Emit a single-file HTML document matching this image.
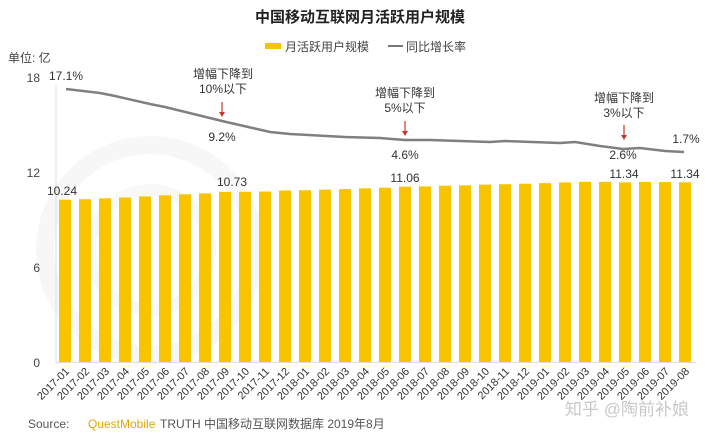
<!DOCTYPE html>
<html><head><meta charset="utf-8"><style>
body{margin:0;background:#fff;}
svg{display:block;font-family:"Liberation Sans","Noto Sans CJK SC",sans-serif;}
</style></head><body>
<svg width="720" height="446" viewBox="0 0 720 446" xmlns="http://www.w3.org/2000/svg">
<rect width="720" height="446" fill="#fff"/>
<circle cx="150" cy="250" r="105" fill="none" stroke="#f7f7f7" stroke-width="18"/>
<circle cx="150" cy="250" r="60" fill="none" stroke="#f8f8f8" stroke-width="12"/>
<text x="360" y="22" text-anchor="middle" font-size="15" font-weight="bold" fill="#222">中国移动互联网月活跃用户规模</text>
<rect x="265" y="43" width="16" height="6" fill="#f8c400"/>
<text x="285" y="51" font-size="12" fill="#444">月活跃用户规模</text>
<line x1="388" y1="46" x2="403" y2="46" stroke="#777" stroke-width="2"/>
<text x="406" y="51" font-size="12" fill="#444">同比增长率</text>
<text x="8" y="62" font-size="12" fill="#444">单位: 亿</text>
<g font-size="12" fill="#444" text-anchor="end">
<text x="40" y="82">18</text><text x="40" y="177">12</text><text x="40" y="272">6</text><text x="40" y="367">0</text>
</g>
<line x1="56" y1="85" x2="56" y2="363" stroke="#ddd"/>
<line x1="56" y1="362.5" x2="696" y2="362.5" stroke="#ddd"/>
<g fill="#f8c400">
<rect x="59" y="199.7" width="12" height="162.3"/>
<rect x="79" y="199.2" width="12" height="162.8"/>
<rect x="99" y="198.3" width="12" height="163.7"/>
<rect x="119" y="197.5" width="12" height="164.5"/>
<rect x="139" y="196.4" width="12" height="165.6"/>
<rect x="159" y="195.3" width="12" height="166.7"/>
<rect x="179" y="194.3" width="12" height="167.7"/>
<rect x="199" y="193.4" width="12" height="168.6"/>
<rect x="219" y="191.9" width="12" height="170.1"/>
<rect x="239" y="191.8" width="12" height="170.2"/>
<rect x="259" y="191.5" width="12" height="170.5"/>
<rect x="279" y="190.5" width="12" height="171.5"/>
<rect x="299" y="190.2" width="12" height="171.8"/>
<rect x="319" y="189.7" width="12" height="172.3"/>
<rect x="339" y="189.1" width="12" height="172.9"/>
<rect x="359" y="188.3" width="12" height="173.7"/>
<rect x="379" y="187.7" width="12" height="174.3"/>
<rect x="399" y="186.7" width="12" height="175.3"/>
<rect x="419" y="186.4" width="12" height="175.6"/>
<rect x="439" y="185.7" width="12" height="176.3"/>
<rect x="459" y="185.3" width="12" height="176.7"/>
<rect x="479" y="184.6" width="12" height="177.4"/>
<rect x="499" y="184.2" width="12" height="177.8"/>
<rect x="519" y="183.7" width="12" height="178.3"/>
<rect x="539" y="183.1" width="12" height="178.9"/>
<rect x="559" y="182.4" width="12" height="179.6"/>
<rect x="579" y="181.8" width="12" height="180.2"/>
<rect x="599" y="181.9" width="12" height="180.1"/>
<rect x="619" y="182.3" width="12" height="179.7"/>
<rect x="639" y="181.9" width="12" height="180.1"/>
<rect x="659" y="182.1" width="12" height="179.9"/>
<rect x="679" y="182.3" width="12" height="179.7"/>
</g>
<polyline fill="none" stroke="#808080" stroke-width="2.5" points="66,89 100,93 115,96 150,104 165,107 222,121 270,132 290,134 345,137 380,138 405,140 430,140 490,142 505,141 560,143 575,142 600,146 623,149 640,148 665,151 684,152"/>
<g font-size="12" fill="#333" text-anchor="middle">
<text x="66" y="80">17.1%</text>
<text x="222" y="141">9.2%</text>
<text x="405" y="159">4.6%</text>
<text x="623" y="159">2.6%</text>
<text x="686" y="143">1.7%</text>
<text x="62" y="195">10.24</text>
<text x="232" y="186">10.73</text>
<text x="405" y="182">11.06</text>
<text x="624" y="178">11.34</text>
<text x="685" y="178">11.34</text>
<text x="223" y="78">增幅下降到</text><text x="223" y="93">10%以下</text>
<text x="405" y="97">增幅下降到</text><text x="405" y="112">5%以下</text>
<text x="624" y="102">增幅下降到</text><text x="624" y="117">3%以下</text>
</g>
<g stroke="#c0392b" stroke-width="1.2" fill="#c0392b">
<line x1="222" y1="102" x2="222" y2="114"/><path d="M219,112 L225,112 L222,117Z" stroke="none"/>
<line x1="405" y1="121" x2="405" y2="133"/><path d="M402,131 L408,131 L405,136Z" stroke="none"/>
<line x1="624" y1="125" x2="624" y2="137"/><path d="M621,135 L627,135 L624,140Z" stroke="none"/>
</g>
<g font-size="11" fill="#333" text-anchor="end">
<text transform="translate(70,372) rotate(-45)">2017-01</text>
<text transform="translate(90,372) rotate(-45)">2017-02</text>
<text transform="translate(110,372) rotate(-45)">2017-03</text>
<text transform="translate(130,372) rotate(-45)">2017-04</text>
<text transform="translate(150,372) rotate(-45)">2017-05</text>
<text transform="translate(170,372) rotate(-45)">2017-06</text>
<text transform="translate(190,372) rotate(-45)">2017-07</text>
<text transform="translate(210,372) rotate(-45)">2017-08</text>
<text transform="translate(230,372) rotate(-45)">2017-09</text>
<text transform="translate(250,372) rotate(-45)">2017-10</text>
<text transform="translate(270,372) rotate(-45)">2017-11</text>
<text transform="translate(290,372) rotate(-45)">2017-12</text>
<text transform="translate(310,372) rotate(-45)">2018-01</text>
<text transform="translate(330,372) rotate(-45)">2018-02</text>
<text transform="translate(350,372) rotate(-45)">2018-03</text>
<text transform="translate(370,372) rotate(-45)">2018-04</text>
<text transform="translate(390,372) rotate(-45)">2018-05</text>
<text transform="translate(410,372) rotate(-45)">2018-06</text>
<text transform="translate(430,372) rotate(-45)">2018-07</text>
<text transform="translate(450,372) rotate(-45)">2018-08</text>
<text transform="translate(470,372) rotate(-45)">2018-09</text>
<text transform="translate(490,372) rotate(-45)">2018-10</text>
<text transform="translate(510,372) rotate(-45)">2018-11</text>
<text transform="translate(530,372) rotate(-45)">2018-12</text>
<text transform="translate(550,372) rotate(-45)">2019-01</text>
<text transform="translate(570,372) rotate(-45)">2019-02</text>
<text transform="translate(590,372) rotate(-45)">2019-03</text>
<text transform="translate(610,372) rotate(-45)">2019-04</text>
<text transform="translate(630,372) rotate(-45)">2019-05</text>
<text transform="translate(650,372) rotate(-45)">2019-06</text>
<text transform="translate(670,372) rotate(-45)">2019-07</text>
<text transform="translate(690,372) rotate(-45)">2019-08</text>
</g>
<text x="28" y="428" font-size="12" fill="#555">Source:</text>
<text x="88" y="428" font-size="12" fill="#e0a800">QuestMobile</text>
<text x="160" y="428" font-size="12" fill="#555">TRUTH 中国移动互联网数据库 2019年8月</text>
<text x="565" y="415" font-size="17" fill="#bbb" opacity="0.8">知乎 @陶前补娘</text>
</svg>
</body></html>
